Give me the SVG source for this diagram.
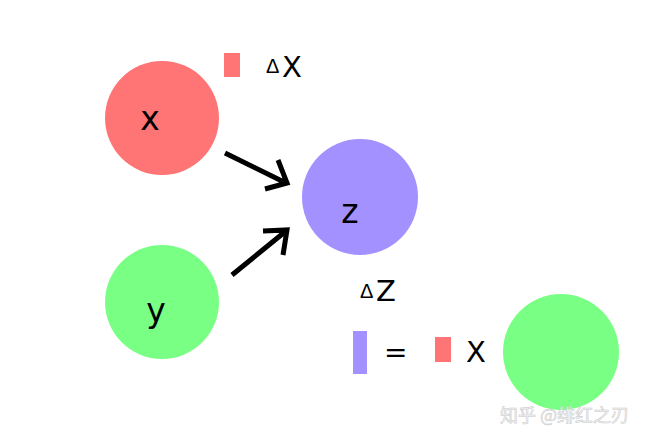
<svg xmlns="http://www.w3.org/2000/svg" width="659" height="444" viewBox="0 0 659 444">
<style>
.t{font-family:"DejaVu Sans","Liberation Sans",sans-serif;fill:#000}
.d{font-family:"Liberation Sans",sans-serif;fill:#000;font-size:20px}
.arr{stroke:#000;stroke-width:5;fill:none;stroke-linecap:butt;stroke-linejoin:miter}
</style>
<rect width="659" height="444" fill="#fff"/>
<g id="node-x"><circle cx="162" cy="118" r="57" fill="#ff7474"/><text class="t" x="150" y="130" font-size="33" text-anchor="middle">x</text></g>
<g id="node-y"><circle cx="162" cy="302" r="57" fill="#78ff84"/><text class="t" x="156" y="322" font-size="33" text-anchor="middle">y</text></g>
<g id="node-z"><circle cx="360" cy="197" r="58" fill="#a391ff"/><text class="t" x="350" y="223" font-size="33" text-anchor="middle">z</text></g>
<g id="node-out"><circle cx="561" cy="352" r="58" fill="#78ff84"/></g>
<g id="legend-dx"><rect x="224" y="53" width="16" height="24" fill="#ff7474"/><text class="d" x="266" y="73">Δ</text><text class="t" x="282" y="77" font-size="29">X</text></g>
<g id="legend-dz"><text class="d" x="360" y="298">Δ</text><text class="t" x="376" y="301" font-size="29">Z</text></g>
<g id="equation"><rect x="353" y="331" width="14" height="43" fill="#a391ff"/><text class="t" x="384" y="362" font-size="28">=</text><rect x="435" y="337" width="16" height="25" fill="#ff7474"/><text class="t" x="466" y="362" font-size="29">X</text></g>
<g id="connectors">
<path class="arr" d="M225,153 L286,183 M278,160 L287,183 L265,189"/>
<path class="arr" d="M232,275 L286,231 M263,231 L287,230 L283,255"/>
</g>
<text x="500" y="422" font-family="Noto Sans CJK SC,sans-serif" font-size="18" fill="#f4f4f4" stroke="#c8c8c8" stroke-width="0.5">知乎 @绯红之刃</text>
</svg>
